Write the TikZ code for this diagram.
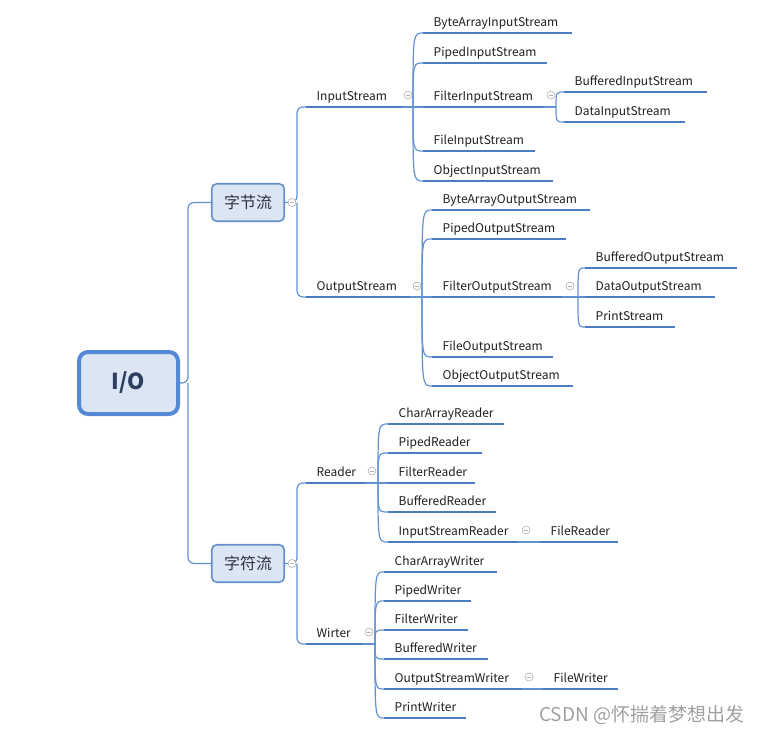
\documentclass[tikz,border=0pt]{standalone}
\usepackage{fontspec}
\setmainfont{Noto Sans CJK SC}
\definecolor{lineblue}{RGB}{96,146,208}
\definecolor{ulblue}{RGB}{74,125,196}
\definecolor{rootblue}{RGB}{84,137,214}
\definecolor{boxfill}{RGB}{219,229,243}
\definecolor{subblue}{RGB}{100,143,204}
\definecolor{iotext}{RGB}{45,62,95}
\definecolor{subtext}{RGB}{50,50,60}
\definecolor{leaftext}{RGB}{30,30,30}
\definecolor{colgray}{RGB}{175,175,175}
\definecolor{wmgray}{RGB}{160,160,160}
\tikzset{
  conn/.style={draw=lineblue, line width=1.2pt},
  uline/.style={draw=ulblue, line width=2.4pt},
  leafbox/.style={anchor=south west, inner xsep=0pt, inner ysep=0pt, text height=10pt, text depth=6pt,
    font=\fontsize{12}{14}\selectfont, text=leaftext},
  collapse/.style={circle, draw=colgray, fill=white, minimum size=8pt, inner sep=0pt, line width=0.6pt,
    path picture={\draw[colgray, line width=0.6pt]
      ([xshift=-2.3pt]path picture bounding box.center) -- ([xshift=2.3pt]path picture bounding box.center);}},
  rootbox/.style={draw=rootblue, line width=4pt, fill=boxfill, rounded corners=9pt,
    minimum width=99pt, minimum height=62pt, inner sep=0pt,
    font=\fontsize{22}{26}\selectfont\bfseries, text=iotext},
  subbox/.style={draw=subblue, line width=1.6pt, fill=boxfill, rounded corners=5pt,
    minimum width=72.5pt, minimum height=37.5pt, inner sep=0pt,
    font=\fontsize{16}{18}\selectfont, text=subtext},
  wmark/.style={anchor=west, inner sep=0pt, font=\fontsize{19}{22}\selectfont, text=wmgray}
}
\newcommand\leafnode[5]{%
  \node[leafbox] (#1) at (#2,#3) {\makebox[#4pt][l]{\hspace{10.5pt}#5}};
  \draw[uline] (#1.south west) -- (#1.south east);}
\begin{document}
\begin{tikzpicture}[x=1pt,y=-1pt]
\useasboundingbox (0,0) rectangle (766,733);

% main boxes
\node[rootbox] (io) at (128.5,383) {I/O};
\node[subbox] (zj) at (248,202.5) {字节流};
\node[subbox] (zf) at (248,563.5) {字符流};

% topics and leaves
\leafnode{is}{306}{107}{96}{InputStream}
\leafnode{os}{306}{297}{104}{OutputStream}
\leafnode{bais}{423}{33}{149}{ByteArrayInputStream}
\leafnode{pis}{423}{63}{124}{PipedInputStream}
\leafnode{fis}{423}{107}{120}{FilterInputStream}
\leafnode{files}{423}{151}{112}{FileInputStream}
\leafnode{ois}{423}{181}{130}{ObjectInputStream}
\leafnode{bis}{564}{92}{143}{BufferedInputStream}
\leafnode{dis}{564}{122}{121}{DataInputStream}
\leafnode{baos}{432}{210}{158}{ByteArrayOutputStream}
\leafnode{pos}{432}{239}{134}{PipedOutputStream}
\leafnode{fos}{432}{297}{130}{FilterOutputStream}
\leafnode{fileos}{432}{357}{121}{FileOutputStream}
\leafnode{oos}{432}{386}{141}{ObjectOutputStream}
\leafnode{bos}{585}{268}{152}{BufferedOutputStream}
\leafnode{dos}{585}{297}{130}{DataOutputStream}
\leafnode{ps}{585}{327}{90}{PrintStream}
\leafnode{rd}{306}{483}{59}{Reader}
\leafnode{wr}{306}{644}{56}{Wirter}
\leafnode{car}{388}{424}{116}{CharArrayReader}
\leafnode{pr}{388}{453}{94}{PipedReader}
\leafnode{fr}{388}{483}{87}{FilterReader}
\leafnode{br}{388}{512}{108}{BufferedReader}
\leafnode{isr}{388}{542}{130}{InputStreamReader}
\leafnode{filer}{540}{542}{78}{FileReader}
\leafnode{caw}{384}{572}{113}{CharArrayWriter}
\leafnode{pw}{384}{601}{87}{PipedWriter}
\leafnode{fw}{384}{630}{84}{FilterWriter}
\leafnode{bw}{384}{659}{104}{BufferedWriter}
\leafnode{osw}{384}{689}{138}{OutputStreamWriter}
\leafnode{filew}{543}{689}{75}{FileWriter}
\leafnode{prw}{384}{718}{82}{PrintWriter}

% junctions
\coordinate (ioj) at (188,383);
\coordinate (zjj) at (297,202.5);
\coordinate (zfj) at (297,563.5);
\coordinate (isj) at (413,107);
\coordinate (fisj) at (556,107);
\coordinate (osj) at (422,297);
\coordinate (fosj) at (578,297);
\coordinate (rdj) at (378,483);
\coordinate (wrj) at (375,644);

% connectors
\draw[conn, rounded corners=6pt] (io.east) -- (ioj) |- (zj.west);
\draw[conn, rounded corners=6pt] (ioj) |- (zf.west);
\draw[conn, rounded corners=6pt] (zj.east) -- (zjj) |- (is.south west);
\draw[conn, rounded corners=6pt] (zjj) |- (os.south west);
\draw[conn, rounded corners=6pt] (zf.east) -- (zfj) |- (rd.south west);
\draw[conn, rounded corners=6pt] (zfj) |- (wr.south west);

\draw[conn] (is.south east) -- (isj);
\foreach \c in {bais,pis,fis,files,ois}
  \draw[conn] (isj) .. controls (isj |- \c.south west) .. (\c.south west);
\draw[conn] (fis.south east) -- (fisj);
\foreach \c in {bis,dis}
  \draw[conn] (fisj) .. controls (fisj |- \c.south west) .. (\c.south west);
\draw[conn] (os.south east) -- (osj);
\foreach \c in {baos,pos,fos,fileos,oos}
  \draw[conn] (osj) .. controls (osj |- \c.south west) .. (\c.south west);
\draw[conn] (fos.south east) -- (fosj);
\foreach \c in {bos,dos,ps}
  \draw[conn] (fosj) .. controls (fosj |- \c.south west) .. (\c.south west);
\draw[conn] (rd.south east) -- (rdj);
\foreach \c in {car,pr,fr,br,isr}
  \draw[conn] (rdj) .. controls (rdj |- \c.south west) .. (\c.south west);
\draw[conn] (wr.south east) -- (wrj);
\foreach \c in {caw,pw,fw,bw,osw,prw}
  \draw[conn] (wrj) .. controls (wrj |- \c.south west) .. (\c.south west);
\draw[conn] (isr.south east) -- (filer.south west);
\draw[conn] (osw.south east) -- (filew.south west);

% collapse markers
\node[collapse] (c1) at (292,202.5) {};
\node[collapse] (c2) at (292,563.5) {};
\node[collapse] (c3) at (408,95) {};
\node[collapse] (c4) at (551,95) {};
\node[collapse] (c5) at (417,286) {};
\node[collapse] (c6) at (570,286) {};
\node[collapse] (c7) at (372,471) {};
\node[collapse] (c8) at (526,530) {};
\node[collapse] (c9) at (369,632) {};
\node[collapse] (c10) at (529,677) {};

% watermark
\node[wmark] (wm) at (539,715) {CSDN @怀揣着梦想出发};
\end{tikzpicture}
\end{document}
